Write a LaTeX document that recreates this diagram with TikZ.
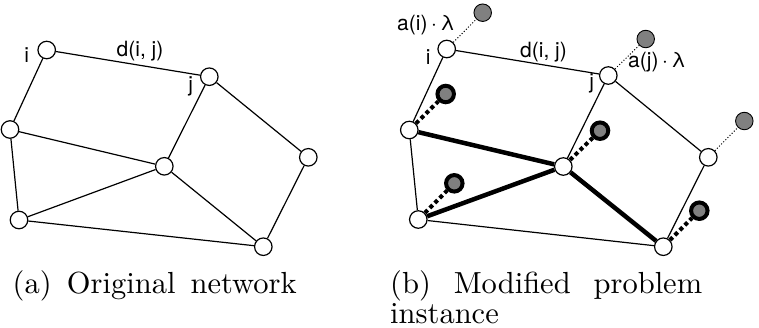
\documentclass[tikz,border=0pt]{standalone}
\usepackage{fontspec}
\newfontfamily\labelfont{TeX Gyre Heros}
\newfontfamily\captionfont{lmroman10-regular}[Extension=.otf]
\usepackage{tikz}
\usetikzlibrary{positioning}
\definecolor{pointgray}{RGB}{128,128,128}

\begin{document}
\begin{tikzpicture}[
                x=1pt, y=-1pt,
                vertex/.style={
                    circle,
                    draw=black,
                    fill=white,
                    line width=1.2pt,
                    minimum size=17.5pt,
                    inner sep=0pt
                },
                anchorpt/.style={vertex, fill=pointgray, line width=0.9pt},
                prizept/.style={vertex, fill=pointgray, line width=4pt, minimum size=16.5pt},
                edge/.style={line width=1.2pt},
                treeedge/.style={line width=4.5pt},
                link/.style={dotted, line width=1pt},
                strong link/.style={line width=4pt, dash pattern=on 4pt off 3pt},
                lbl/.style={font=\labelfont\fontsize{21}{24}\selectfont, inner sep=0pt},
                caption/.style={font=\captionfont\fontsize{30.5}{30}\selectfont, inner sep=0pt,
                    anchor=base west, align=left}
            ]
            \useasboundingbox (0,0) rectangle (759,327);

            % (a) Original network
            \node (ai)  [vertex] at (46.7,50) {};
            \node (aj)  [vertex] at (209.3,76.7) {};
            \node (al)  [vertex] at (10,129.5) {};
            \node (ac)  [vertex] at (164.3,166.3) {};
            \node (ar)  [vertex] at (308.3,157.3) {};
            \node (abl) [vertex] at (19,220) {};
            \node (abr) [vertex] at (263.3,246.7) {};

            \node [lbl] at (26.7,55) {i};
            \node [lbl] at (190.7,86) {j};
            \node [lbl] at (140,50.7) {d(i, j)};

            \draw [edge] (ai) -- (aj);
            \draw [edge] (ai) -- (al);
            \draw [edge] (aj) -- (ac);
            \draw [edge] (aj) -- (ar);
            \draw [edge] (al) -- (ac);
            \draw [edge] (al) -- (abl);
            \draw [edge] (ac) -- (abl);
            \draw [edge] (ac) -- (abr);
            \draw [edge] (abl) -- (abr);
            \draw [edge] (ar) -- (abr);

            \node (capa) [caption] at (12.5,293)
            {\makebox[284pt][s]{(a) Original network}};

            % (b) Modified problem instance
            \begin{scope}[shift={(399,0)}]
            \node (bi)  [vertex] at (47.7,49) {};
            \node (bj)  [vertex] at (209.3,75.5) {};
            \node (bl)  [vertex] at (10.3,130) {};
            \node (bc)  [vertex] at (164.3,166.5) {};
            \node (br)  [vertex] at (309.3,157.3) {};
            \node (bbl) [vertex] at (19.3,219.5) {};
            \node (bbr) [vertex] at (264.3,246.7) {};

            \node (gi) [anchorpt] at (83.7,12.7) {};
            \node (gj) [anchorpt] at (246.7,39) {};
            \node (gr) [anchorpt] at (345.3,121) {};

            \node (pl)  [prizept] at (46.7,94) {};
            \node (pc)  [prizept] at (201,130.7) {};
            \node (pbl) [prizept] at (55.3,183.3) {};
            \node (pbr) [prizept] at (300.3,210.7) {};

            \node [lbl] at (27,25) {a(i)\,·\,λ};
            \node [lbl] at (29.3,56.7) {i};
            \node [lbl] at (144.5,52) {d(i, j)};
            \node [lbl] at (192.7,83.3) {j};
            \node [lbl] at (258,61.7) {a(j)\,·\,λ};

            \draw [edge] (bi) -- (bj);
            \draw [edge] (bi) -- (bl);
            \draw [edge] (bj) -- (bc);
            \draw [edge] (bj) -- (br);
            \draw [edge] (bl) -- (bbl);
            \draw [edge] (bbl) -- (bbr);
            \draw [edge] (br) -- (bbr);
            \draw [treeedge] (bl) -- (bc);
            \draw [treeedge] (bc) -- (bbl);
            \draw [treeedge] (bc) -- (bbr);

            \draw [link] (bi) -- (gi);
            \draw [link] (bj) -- (gj);
            \draw [link] (br) -- (gr);
            \draw [strong link] (bl) -- (pl);
            \draw [strong link] (bc) -- (pc);
            \draw [strong link] (bbl) -- (pbl);
            \draw [strong link] (bbr) -- (pbr);

            \node (capb) [caption, text depth=0pt] at (-9,323)
            {\makebox[312pt][s]{(b) Modified problem}\\instance};
            \end{scope}

            \end{tikzpicture}
\end{document}
